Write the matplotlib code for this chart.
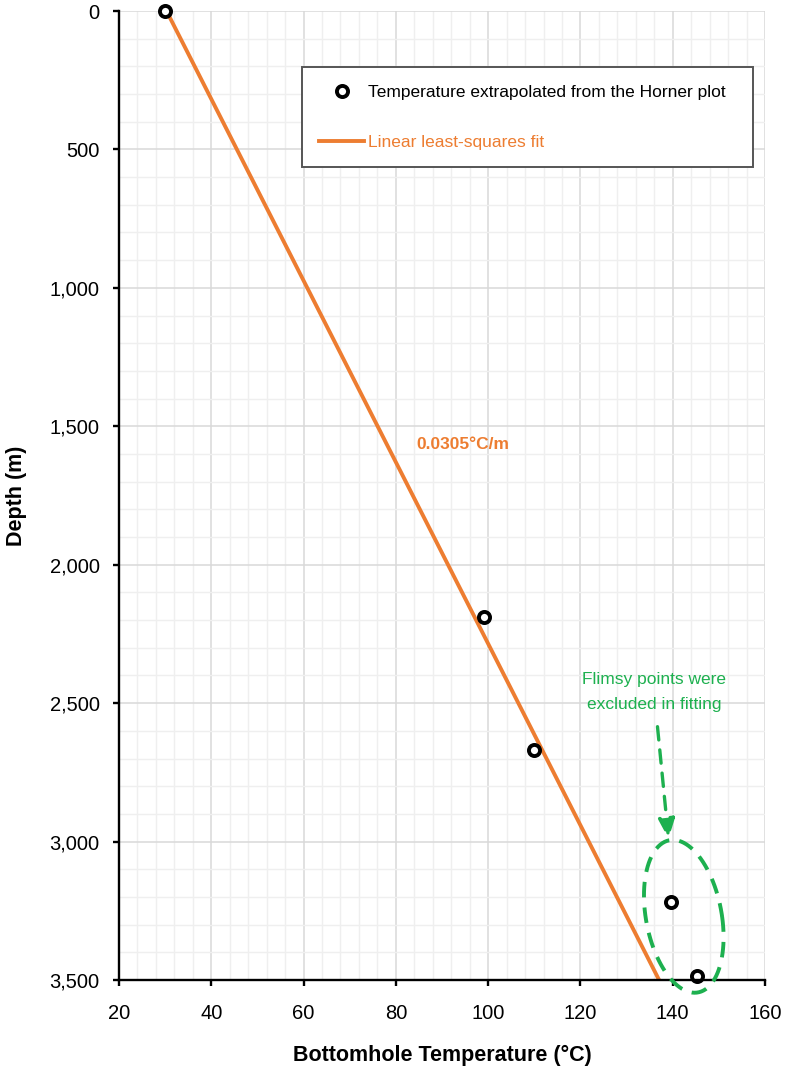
import matplotlib
matplotlib.use('Agg')
import matplotlib.pyplot as plt
from matplotlib.ticker import MultipleLocator, FuncFormatter
import numpy as np

temp_used = [30.0, 99.1, 110.0]
depth_used = [0, 2189, 2669]
temp_flimsy = [139.6, 145.2]
depth_flimsy = [3220, 3487]

# linear least-squares fit (T = intercept + slope * depth)
fit_intercept = 30.3
fit_slope = 0.0305
fit_depth = [0, 3500]

orange = '#ED7D31'
green = '#1DB04F'

plt.rcParams['font.family'] = ['Liberation Sans', 'DejaVu Sans']

fig = plt.figure(figsize=(7.85, 10.68), dpi=100)
ax = fig.add_axes([0.1516, 0.0824, 0.8229, 0.9073])

fit_temp = [fit_intercept + fit_slope * d for d in fit_depth]
ax.plot(fit_temp, fit_depth, color=orange, linewidth=2.8, label='Linear least-squares fit', zorder=3)
ax.plot(temp_used, depth_used, 'o', markersize=8, markerfacecolor='white',
        markeredgecolor='black', markeredgewidth=2.8, linestyle='none',
        label='Temperature extrapolated from the Horner plot', zorder=4, clip_on=False)
ax.plot(temp_flimsy, depth_flimsy, 'o', markersize=8, markerfacecolor='white',
        markeredgecolor='black', markeredgewidth=2.8, linestyle='none', zorder=4, clip_on=False)

# axes
ax.set_xlim(20, 160)
ax.set_ylim(3500, 0)
ax.xaxis.set_major_locator(MultipleLocator(20))
ax.xaxis.set_minor_locator(MultipleLocator(4))
ax.yaxis.set_major_locator(MultipleLocator(500))
ax.yaxis.set_minor_locator(MultipleLocator(100))
ax.yaxis.set_major_formatter(FuncFormatter(lambda v, p: f'{int(v):,}'))
ax.grid(which='major', color='#d9d9d9', linewidth=1.1)
ax.grid(which='minor', color='#efefef', linewidth=1.0)
ax.set_axisbelow(True)
for s in ['top', 'right']:
    ax.spines[s].set_visible(False)
for s in ['left', 'bottom']:
    ax.spines[s].set_linewidth(1.7)
    ax.spines[s].set_zorder(5)
ax.tick_params(which='major', direction='out', length=4, width=1.7, labelsize=14.5, colors='black')
ax.tick_params(axis='x', pad=13)
ax.tick_params(axis='y', pad=10)
ax.tick_params(which='minor', length=0)
ax.set_xlabel('Bottomhole Temperature (°C)', fontsize=15.5, fontweight='bold', labelpad=16)
ax.set_ylabel('Depth (m)', fontsize=15.5, fontweight='bold', labelpad=16)

# gradient label
ax.text(84.4, 1564, '0.0305°C/m', color=orange, fontsize=12.5, fontweight='bold', va='center', ha='left')

# legend
handles, labels = ax.get_legend_handles_labels()
leg = ax.legend(handles[::-1], labels[::-1], loc='upper left',
                bbox_to_anchor=(0.283, 0.839, 0.698, 0.103), mode='expand',
                fontsize=12.5, frameon=True, fancybox=False, edgecolor='#555555',
                framealpha=1, borderpad=1.0, labelspacing=2.0, handlelength=2.6,
                handletextpad=0.2, borderaxespad=0)
leg.get_frame().set_linewidth(1.4)
leg.get_texts()[1].set_color(orange)

# flimsy points annotation
ax.text(135.9, 2459, 'Flimsy points were\nexcluded in fitting', color=green, fontsize=12.5,
        ha='center', va='center', linespacing=1.85)
ax.annotate('', xy=(139.1, 2990), xytext=(136.7, 2585),
            arrowprops=dict(arrowstyle='-|>,head_length=1.2,head_width=0.5', color=green,
                            lw=2.4, linestyle=(0, (4, 3)), shrinkA=0, shrinkB=0))
t = np.linspace(0, 2 * np.pi, 200)
ex = 142.4 + 8.3 * np.cos(t) + 2.35 * np.sin(t)
ey = 3270 + 276 * np.sin(t)
ax.plot(ex, ey, color=green, linewidth=2.8, linestyle=(0, (4, 2.6)), clip_on=False, zorder=6)

plt.savefig('out.png', dpi=100)
